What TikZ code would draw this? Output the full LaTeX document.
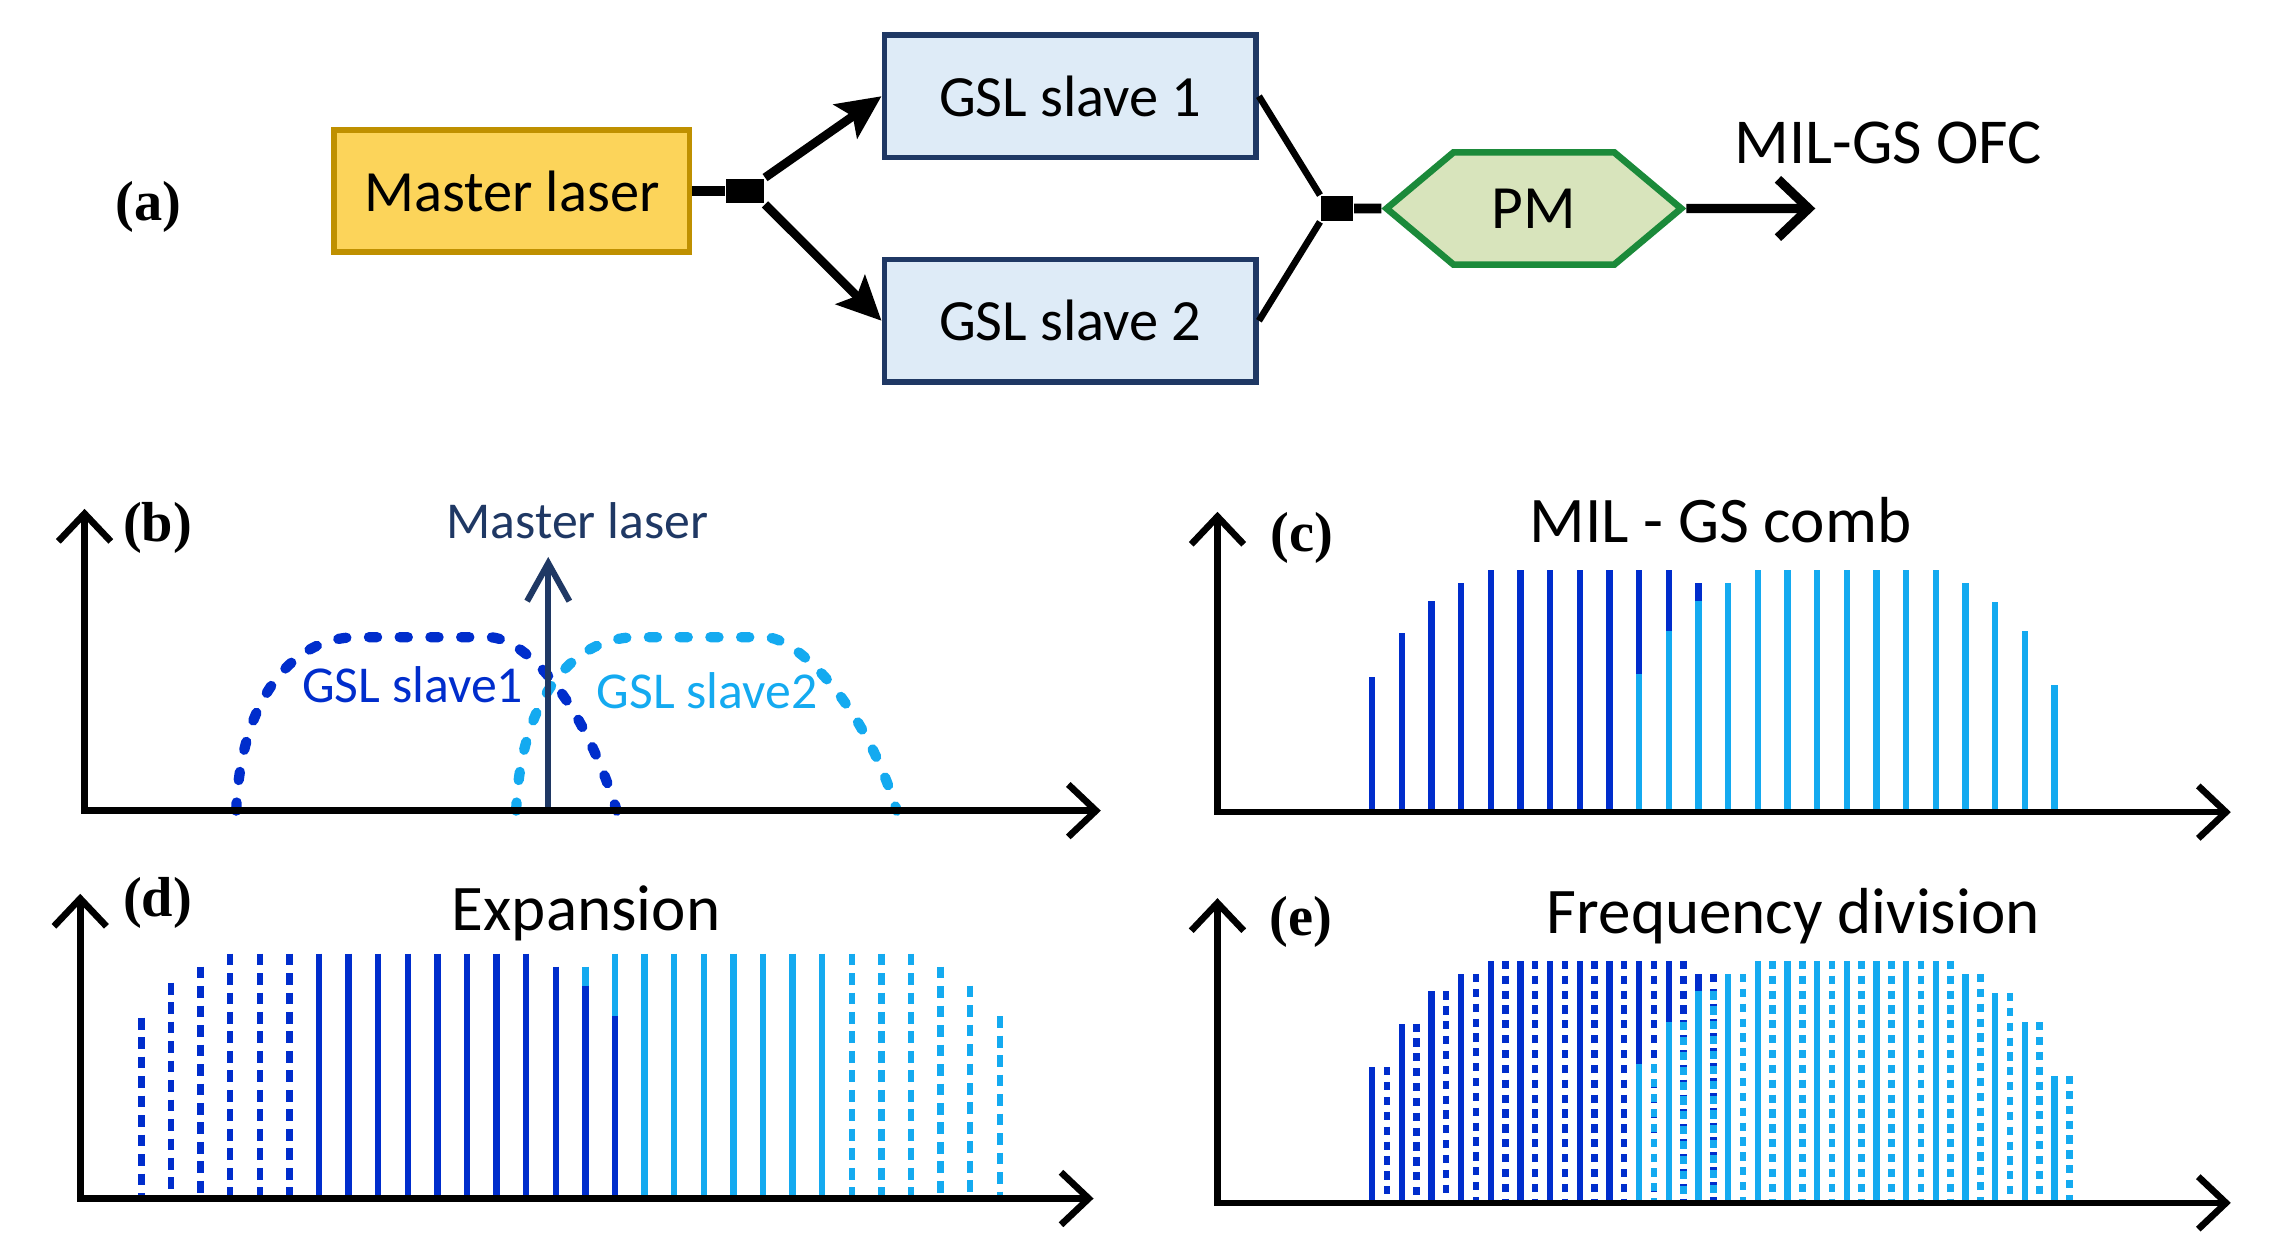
\documentclass[tikz,border=0pt]{standalone}
\usepackage{fontspec}
\setmainfont{Carlito}
\newfontfamily\panelfont{Liberation Serif}
\usepackage{tikz}
\usetikzlibrary{arrows.meta}
\usetikzlibrary{shapes.symbols}

\definecolor{laserfill}{RGB}{252,212,90}
\definecolor{laserdraw}{RGB}{191,144,0}
\definecolor{slavefill}{RGB}{222,235,247}
\definecolor{slavedraw}{RGB}{31,56,100}
\definecolor{pmfill}{RGB}{216,228,188}
\definecolor{pmdraw}{RGB}{27,138,58}
\definecolor{combdark}{RGB}{0,45,204}
\definecolor{comblight}{RGB}{20,170,240}
\definecolor{navyline}{RGB}{31,56,100}

\begin{document}
\begin{tikzpicture}[x=0.1mm, y=-0.1mm,
			blockbox/.style={draw, line width=1.1pt, minimum height=8.4mm, inner sep=0pt, font=\fontsize{11.4}{13}\selectfont},
			junction/.style={fill=black, inner sep=0pt, minimum height=1.7mm},
			panel/.style={font=\panelfont\bfseries\fontsize{11}{13}\selectfont},
			title/.style={anchor=base, font=\fontsize{12.7}{15}\selectfont},
			axis/.style={line width=1.3pt, {Straight Barb[length=1.9mm,width=3.6mm]}-{Straight Barb[length=1.9mm,width=3.6mm]}},
			combline/.style={line width=1.25pt},
			slavecurve/.style={line width=2pt, line cap=round, dash pattern=on 1.6pt off 4.4pt}
		]
		\useasboundingbox (0,0) rectangle (1561,857);

		% (a) set-up
		\node[panel] (lbla) at (102,142) {(a)};
		\node[blockbox, fill=laserfill, draw=laserdraw, minimum width=24.4mm] (laser) at (351,131) {Master laser};
		\node[blockbox, fill=slavefill, draw=slavedraw, minimum width=25.5mm] (slave1) at (734,66) {GSL slave 1};
		\node[blockbox, fill=slavefill, draw=slavedraw, minimum width=25.5mm] (slave2) at (734,220) {GSL slave 2};
		\node[junction, minimum width=2.6mm] (j1) at (511,131) {};
		\node[junction, minimum width=2.2mm] (j2) at (917,143) {};
		\node[signal, signal to=west and east, signal pointer angle=80, draw=pmdraw, fill=pmfill, line width=1.3pt,
			minimum width=20.2mm, minimum height=7.7mm, inner sep=0pt, font=\fontsize{12}{14}\selectfont] (pm) at (1052,143) {PM};
		\coordinate (ofc) at (1245,143);
		\node[anchor=base, font=\fontsize{12.5}{15}\selectfont] (ofclabel) at (1295,112) {MIL-GS OFC};

		\draw[line width=1.9pt] (laser) -- (j1);
		\draw[line width=1.7pt, -{Stealth[length=3mm,width=2.8mm,inset=0.6mm]}] (j1.north east) -- (slave1.west);
		\draw[line width=1.7pt, -{Stealth[length=3mm,width=2.8mm,inset=0.6mm]}] (j1.south east) -- (slave2.west);
		\draw[line width=1.3pt] (slave1.east) -- (j2.north west);
		\draw[line width=1.3pt] (slave2.east) -- (j2.south west);
		\draw[line width=1.9pt] (j2) -- (pm);
		\draw[line width=1.8pt, -{Straight Barb[length=2.1mm,width=4mm]}] (pm) -- (ofc);

		% (b) free-running spectra
		\coordinate (bO) at (58,556);
		\coordinate (bY) at (58,349);
		\coordinate (bX) at (755,556);
		\coordinate (mlfoot) at (376,556);
		\coordinate (mltip) at (376,382);
		\draw[slavecurve, combdark] (162,556) .. controls (165,480) and (200,437) .. (245,437) -- (335,437)
			.. controls (357,437) and (397,473) .. (423,556);
		\draw[slavecurve, comblight] (354,556) .. controls (357,480) and (392,437) .. (437,437) -- (525,437)
			.. controls (545,437) and (592,480) .. (615,556);
		\draw[navyline, line width=1.2pt, -{Straight Barb[length=2.6mm,width=2.9mm]}] (mlfoot) -- (mltip);
		\draw[axis] (bY) -- (bO) -- (bX);
		\node[panel] (lblb) at (108,362) {(b)};
		\node[anchor=base, navyline, font=\fontsize{10.1}{12}\selectfont] (mllabel) at (396,369) {Master laser};
		\node[anchor=base, combdark, font=\fontsize{10.1}{12}\selectfont] (s1label) at (283,482) {GSL slave1};
		\node[anchor=base, comblight, font=\fontsize{10.1}{12}\selectfont] (s2label) at (485,486) {GSL slave2};

		% (c) MIL - GS comb
		\coordinate (cO) at (835,557);
		\coordinate (cY) at (835,351);
		\coordinate (cX) at (1530,557);
		\foreach \h [count=\i from 0] in {93,123,145,157,166,166,166,166,166,166,166,157}
			\draw[combline, combdark] (941+20.35*\i,557) -- ++(0,-\h);
		\foreach \h [count=\i from 9] in {95,124,145,157,166,166,166,166,166,166,166,157,144,124,87}
			\draw[combline, comblight] (941+20.35*\i,557) -- ++(0,-\h);
		\draw[axis] (cY) -- (cO) -- (cX);
		\node[panel] (lblc) at (893,369) {(c)};
		\node[title] (ctitle) at (1180,372) {MIL - GS comb};

		% (d) expansion
		\coordinate (dO) at (55,822);
		\coordinate (dY) at (55,613);
		\coordinate (dX) at (750,822);
		\foreach \h [count=\i from 15] in {159,168,168,168,168,168,168,168,168}
			\draw[combline, comblight] (97+20.3*\i,822-\h) -- ++(0,\h);
		\foreach \h [count=\i from 24] in {168,168,168,159,146,125}
			\draw[combline, comblight, dash pattern=on 2.3pt off 1.5pt] (97+20.3*\i,822-\h) -- ++(0,\h);
		\foreach \h [count=\i from 0] in {124,148,159,168,168,168}
			\draw[combline, combdark, dash pattern=on 2.3pt off 1.5pt] (97+20.3*\i,822-\h) -- ++(0,\h);
		\foreach \h [count=\i from 6] in {168,168,168,168,168,168,168,168,159,146,125}
			\draw[combline, combdark] (97+20.3*\i,822-\h) -- ++(0,\h);
		\draw[axis] (dY) -- (dO) -- (dX);
		\node[panel] (lbld) at (108,619) {(d)};
		\node[title] (dtitle) at (402,638) {Expansion};

		% (e) frequency division
		\coordinate (eO) at (835,825);
		\coordinate (eY) at (835,616);
		\coordinate (eX) at (1530,825);
		\foreach \h [count=\i from 0] in {93,123,145,157,166,166,166,166,166,166,166,157} {
			\draw[combline, combdark] (941+20.35*\i,825) -- ++(0,-\h);
			\draw[combline, combdark, dash pattern=on 1.6pt off 1.3pt] (951.2+20.35*\i,825-\h) -- ++(0,\h);
		}
		\foreach \h [count=\i from 9] in {95,124,145,157,166,166,166,166,166,166,166,157,144,124,87} {
			\draw[combline, comblight] (941+20.35*\i,825) -- ++(0,-\h);
			\draw[combline, comblight, dash pattern=on 1.6pt off 1.3pt] (951.2+20.35*\i,825-\h) -- ++(0,\h);
		}
		\draw[axis] (eY) -- (eO) -- (eX);
		\node[panel] (lble) at (892,632) {(e)};
		\node[title] (etitle) at (1230,640) {Frequency division};
\end{tikzpicture}
\end{document}
